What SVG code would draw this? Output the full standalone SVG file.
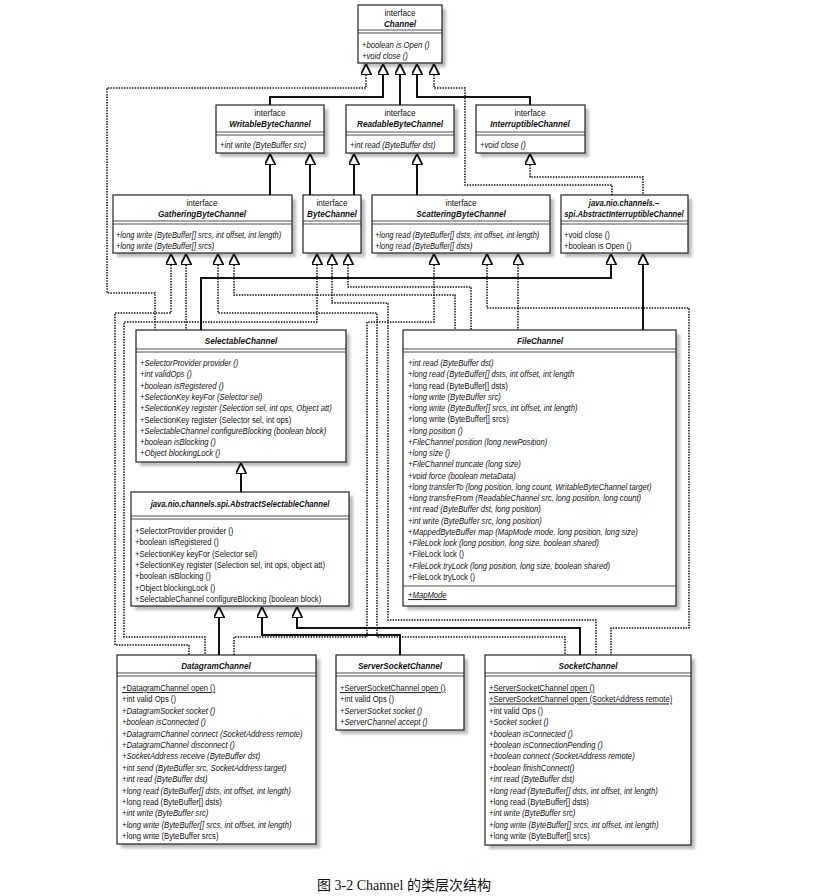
<svg xmlns="http://www.w3.org/2000/svg" width="818" height="896" viewBox="0 0 818 896">
<style>
text{font-family:"Liberation Sans",Arial,sans-serif;font-size:9.6px;fill:#111}
.t{text-anchor:middle}
.b{font-weight:bold;font-style:italic}
.i{font-style:italic}
.u{text-decoration:underline}
.box{fill:#fff;stroke:#222;stroke-width:1.2}
.sh{fill:#bbb;filter:url(#blur)}
.sep{stroke:#222;stroke-width:0.8;fill:none}
.s{fill:none;stroke:#111;stroke-width:2;marker-start:url(#tri)}
.d{fill:none;stroke:#111;stroke-width:1.5;stroke-dasharray:1.5 1.2;marker-start:url(#tri)}
.cap{font-family:"Liberation Serif","Noto Sans CJK SC",serif;font-size:14px;text-anchor:middle}
</style>
<defs>
<filter id="blur" x="-10%" y="-10%" width="130%" height="130%"><feGaussianBlur stdDeviation="1.5"/></filter>
<marker id="tri" viewBox="0 0 12 12" refX="12" refY="6" markerWidth="11" markerHeight="11" markerUnits="userSpaceOnUse" orient="auto-start-reverse">
<path d="M0,0 L12,6 L0,12 Z" fill="#fff" stroke="#111" stroke-width="2"/>
</marker>
</defs>
<rect width="818" height="896" fill="#fff"/>

<g id="Channel">
<rect class="sh" x="362" y="9" width="84" height="58"/>
<rect class="box" x="358" y="5" width="84" height="58"/>
<text class="t" transform="translate(400,16) scale(.85,1)">interface</text>
<text class="t b" transform="translate(400,27) scale(.85,1)">Channel</text>
<path class="sep" d="M358,30H442M358,33H442"/>
<text class="i" transform="translate(362,48) scale(.8,1)">+boolean is Open ()</text>
<text class="i" transform="translate(362,59) scale(.8,1)">+void close ()</text>
</g>

<g id="WritableByteChannel">
<rect class="sh" x="220" y="109" width="108" height="48"/>
<rect class="box" x="216" y="105" width="108" height="48"/>
<text class="t" transform="translate(270,116) scale(.85,1)">interface</text>
<text class="t b" transform="translate(270,127) scale(.85,1)">WritableByteChannel</text>
<path class="sep" d="M216,132H324M216,135H324"/>
<text class="i" transform="translate(220,148) scale(.8,1)">+int write (ByteBuffer src)</text>
</g>

<g id="ReadableByteChannel">
<rect class="sh" x="350" y="109" width="108" height="48"/>
<rect class="box" x="346" y="105" width="108" height="48"/>
<text class="t" transform="translate(400,116) scale(.85,1)">interface</text>
<text class="t b" transform="translate(400,127) scale(.85,1)">ReadableByteChannel</text>
<path class="sep" d="M346,132H454M346,135H454"/>
<text class="i" transform="translate(350,148) scale(.8,1)">+int read (ByteBuffer dst)</text>
</g>

<g id="InterruptibleChannel">
<rect class="sh" x="480" y="109" width="109" height="48"/>
<rect class="box" x="476" y="105" width="109" height="48"/>
<text class="t" transform="translate(530,116) scale(.85,1)">interface</text>
<text class="t b" transform="translate(530,127) scale(.85,1)">InterruptibleChannel</text>
<path class="sep" d="M476,132H585M476,135H585"/>
<text class="i" transform="translate(480,148) scale(.8,1)">+void close ()</text>
</g>

<g id="GatheringByteChannel">
<rect class="sh" x="117" y="199" width="179" height="58"/>
<rect class="box" x="113" y="195" width="179" height="58"/>
<text class="t" transform="translate(202,206) scale(.85,1)">interface</text>
<text class="t b" transform="translate(202,217) scale(.85,1)">GatheringByteChannel</text>
<path class="sep" d="M113,221H292M113,224H292"/>
<text class="i" transform="translate(116,238) scale(.78,1)">+long write (ByteBuffer[] srcs, int offset, int length)</text>
<text class="i" transform="translate(116,249) scale(.78,1)">+long write (ByteBuffer[] srcs)</text>
</g>

<g id="ByteChannel">
<rect class="sh" x="307" y="199" width="58" height="58"/>
<rect class="box" x="303" y="195" width="58" height="58"/>
<text class="t" transform="translate(332,206) scale(.85,1)">interface</text>
<text class="t b" transform="translate(332,217) scale(.85,1)">ByteChannel</text>
<path class="sep" d="M303,221H361M303,224H361"/>
</g>

<g id="ScatteringByteChannel">
<rect class="sh" x="376" y="199" width="178" height="58"/>
<rect class="box" x="372" y="195" width="178" height="58"/>
<text class="t" transform="translate(461,206) scale(.85,1)">interface</text>
<text class="t b" transform="translate(461,217) scale(.85,1)">ScatteringByteChannel</text>
<path class="sep" d="M372,221H550M372,224H550"/>
<text class="i" transform="translate(375,238) scale(.78,1)">+long read (ByteBuffer[] dsts, int offset, int length)</text>
<text class="i" transform="translate(375,249) scale(.78,1)">+long read (ByteBuffer[] dsts)</text>
</g>

<g id="AbstractInterruptibleChannel">
<rect class="sh" x="565" y="199" width="127" height="58"/>
<rect class="box" x="561" y="195" width="127" height="58"/>
<text class="t b" transform="translate(624,206) scale(.8,1)">java.nio.channels.–</text>
<text class="t b" transform="translate(624,217) scale(.8,1)">spi.AbstractInterruptibleChannel</text>
<path class="sep" d="M561,221H688M561,224H688"/>
<text transform="translate(564,238) scale(.8,1)">+void close ()</text>
<text transform="translate(564,249) scale(.8,1)">+boolean is Open ()</text>
</g>

<g id="SelectableChannel">
<rect class="sh" x="140" y="334" width="210" height="132"/>
<rect class="box" x="136" y="330" width="210" height="132"/>
<text class="t b" transform="translate(241,344) scale(.85,1)">SelectableChannel</text>
<path class="sep" d="M136,349H346M136,352H346"/>
<text class="i" transform="translate(140,366) scale(.8,1)">+SelectorProvider provider ()</text>
<text class="i" transform="translate(140,377.3) scale(.8,1)">+int validOps ()</text>
<text class="i" transform="translate(140,388.6) scale(.8,1)">+boolean isRegistered ()</text>
<text class="i" transform="translate(140,399.9) scale(.8,1)">+SelectionKey keyFor (Selector sel)</text>
<text class="i" transform="translate(140,411.2) scale(.8,1)">+SelectionKey register (Selection sel, int ops, Object att)</text>
<text transform="translate(140,422.5) scale(.8,1)">+SelectionKey register (Selector sel, int ops)</text>
<text class="i" transform="translate(140,433.8) scale(.8,1)">+SelectableChannel configureBlocking (boolean block)</text>
<text class="i" transform="translate(140,445.1) scale(.8,1)">+boolean isBlocking ()</text>
<text class="i" transform="translate(140,456.4) scale(.8,1)">+Object blockingLock ()</text>
</g>

<g id="AbstractSelectableChannel">
<rect class="sh" x="135" y="496" width="218" height="114"/>
<rect class="box" x="131" y="492" width="218" height="114"/>
<text class="t b" transform="translate(240,507) scale(.8,1)">java.nio.channels.spi.AbstractSelectableChannel</text>
<path class="sep" d="M131,516H349M131,519H349"/>
<text transform="translate(135,534) scale(.8,1)">+SelectorProvider provider ()</text>
<text transform="translate(135,545.3) scale(.8,1)">+boolean isRegistered ()</text>
<text transform="translate(135,556.6) scale(.8,1)">+SelectionKey keyFor (Selector sel)</text>
<text transform="translate(135,567.9) scale(.8,1)">+SelectionKey register (Selection sel, int ops, object att)</text>
<text transform="translate(135,579.2) scale(.8,1)">+boolean isBlocking ()</text>
<text transform="translate(135,590.5) scale(.8,1)">+Object blockingLock ()</text>
<text transform="translate(135,601.8) scale(.8,1)">+SelectableChannel configureBlocking (boolean block)</text>
</g>

<g id="FileChannel">
<rect class="sh" x="407" y="334" width="273" height="276"/>
<rect class="box" x="403" y="330" width="273" height="276"/>
<text class="t b" transform="translate(540,344) scale(.85,1)">FileChannel</text>
<path class="sep" d="M403,349H676M403,352H676"/>
<g transform="translate(408,0)">
<text class="i" transform="translate(0,366) scale(.8,1)">+int read (ByteBuffer dst)</text>
<text class="i" transform="translate(0,377.26) scale(.8,1)">+long read (ByteBuffer[] dsts, int offset, int length</text>
<text transform="translate(0,388.52) scale(.8,1)">+long read (ByteBuffer[] dsts)</text>
<text class="i" transform="translate(0,399.78) scale(.8,1)">+long write (ByteBuffer src)</text>
<text class="i" transform="translate(0,411.04) scale(.8,1)">+long write (ByteBuffer[] srcs, int offset, int length)</text>
<text transform="translate(0,422.3) scale(.8,1)">+long write (ByteBuffer[] srcs)</text>
<text class="i" transform="translate(0,433.56) scale(.8,1)">+long position ()</text>
<text class="i" transform="translate(0,444.82) scale(.8,1)">+FileChannel position (long newPosition)</text>
<text class="i" transform="translate(0,456.08) scale(.8,1)">+long size ()</text>
<text class="i" transform="translate(0,467.34) scale(.8,1)">+FileChannel truncate (long size)</text>
<text class="i" transform="translate(0,478.6) scale(.8,1)">+void force (boolean metaData)</text>
<text class="i" transform="translate(0,489.86) scale(.8,1)">+long transferTo (long position, long count, WritableByteChannel target)</text>
<text class="i" transform="translate(0,501.12) scale(.8,1)">+long transfreFrom (ReadableChannel src, long position, long count)</text>
<text class="i" transform="translate(0,512.38) scale(.8,1)">+int read (ByteBuffer dst, long position)</text>
<text class="i" transform="translate(0,523.64) scale(.8,1)">+int write (ByteBuffer src, long position)</text>
<text class="i" transform="translate(0,534.9) scale(.8,1)">+MappedByteBuffer map (MapMode mode, long position, long size)</text>
<text class="i" transform="translate(0,546.16) scale(.8,1)">+FileLock lock (long position, long size, boolean shared)</text>
<text transform="translate(0,557.42) scale(.8,1)">+FileLock lock ()</text>
<text class="i" transform="translate(0,568.68) scale(.8,1)">+FileLock tryLock (long position, long size, boolean shared)</text>
<text transform="translate(0,579.94) scale(.8,1)">+FileLock tryLock ()</text>
</g>
<path class="sep" d="M403,586H676"/>
<text class="i u" transform="translate(408,598) scale(.8,1)">+MapMode</text>
</g>

<g id="DatagramChannel">
<rect class="sh" x="121" y="659" width="199" height="189"/>
<rect class="box" x="117" y="655" width="199" height="189"/>
<text class="t b" transform="translate(216,669) scale(.85,1)">DatagramChannel</text>
<path class="sep" d="M117,673H316M117,676H316"/>
<g transform="translate(122,0)">
<text class="u" transform="translate(0,691) scale(.8,1)">+DatagramChannel open ()    </text>
<text transform="translate(0,702.4) scale(.8,1)">+int valid Ops ()</text>
<text class="i" transform="translate(0,713.8) scale(.8,1)">+DatagramSocket socket ()</text>
<text class="i" transform="translate(0,725.2) scale(.8,1)">+boolean isConnected ()</text>
<text class="i" transform="translate(0,736.6) scale(.8,1)">+DatagramChannel connect (SocketAddress remote)</text>
<text class="i" transform="translate(0,748) scale(.8,1)">+DatagramChannel disconnect ()</text>
<text class="i" transform="translate(0,759.4) scale(.8,1)">+SocketAddress receive (ByteBuffer dst)</text>
<text class="i" transform="translate(0,770.8) scale(.8,1)">+int send (ByteBuffer src, SocketAddress target)</text>
<text class="i" transform="translate(0,782.2) scale(.8,1)">+int read (ByteBuffer dst)</text>
<text class="i" transform="translate(0,793.6) scale(.8,1)">+long read (ByteBuffer[] dsts, int offset, int length)</text>
<text transform="translate(0,805) scale(.8,1)">+long read (ByteBuffer[] dsts)</text>
<text class="i" transform="translate(0,816.4) scale(.8,1)">+int write (ByteBuffer src)</text>
<text class="i" transform="translate(0,827.8) scale(.8,1)">+long write (ByteBuffer[] srcs, int offset, int length)</text>
<text transform="translate(0,839.2) scale(.8,1)">+long write (ByteBuffer srcs)</text>
</g>
</g>

<g id="ServerSocketChannel">
<rect class="sh" x="340" y="659" width="128" height="75"/>
<rect class="box" x="336" y="655" width="128" height="75"/>
<text class="t b" transform="translate(400,669) scale(.85,1)">ServerSocketChannel</text>
<path class="sep" d="M336,673H464M336,676H464"/>
<g transform="translate(340,0)">
<text class="u" transform="translate(0,691) scale(.8,1)">+ServerSocketChannel open ()</text>
<text transform="translate(0,702.4) scale(.8,1)">+int valid Ops ()</text>
<text class="i" transform="translate(0,713.8) scale(.8,1)">+ServerSocket socket ()</text>
<text class="i" transform="translate(0,725.2) scale(.8,1)">+ServerChannel accept ()</text>
</g>
</g>

<g id="SocketChannel">
<rect class="sh" x="489" y="659" width="206" height="190"/>
<rect class="box" x="485" y="655" width="206" height="190"/>
<text class="t b" transform="translate(588,669) scale(.85,1)">SocketChannel</text>
<path class="sep" d="M485,673H691M485,676H691"/>
<g transform="translate(489,0)">
<text class="u" transform="translate(0,691) scale(.8,1)">+ServerSocketChannel open ()</text>
<text class="u" transform="translate(0,702.4) scale(.8,1)">+ServerSocketChannel open (SocketAddress remote)</text>
<text transform="translate(0,713.8) scale(.8,1)">+int valid Ops ()</text>
<text class="i" transform="translate(0,725.2) scale(.8,1)">+Socket socket ()</text>
<text class="i" transform="translate(0,736.6) scale(.8,1)">+boolean isConnected ()</text>
<text class="i" transform="translate(0,748) scale(.8,1)">+boolean isConnectionPending ()</text>
<text class="i" transform="translate(0,759.4) scale(.8,1)">+boolean connect (SocketAddress remote)</text>
<text class="i" transform="translate(0,770.8) scale(.8,1)">+boolean finishConnect()</text>
<text class="i" transform="translate(0,782.2) scale(.8,1)">+int read (ByteBuffer dst)</text>
<text class="i" transform="translate(0,793.6) scale(.8,1)">+long read (ByteBuffer[] dsts, int offset, int length)</text>
<text transform="translate(0,805) scale(.8,1)">+long read (ByteBuffer[] dsts)</text>
<text class="i" transform="translate(0,816.4) scale(.8,1)">+int write (ByteBuffer src)</text>
<text class="i" transform="translate(0,827.8) scale(.8,1)">+long write (ByteBuffer[] srcs, int offset, int length)</text>
<text transform="translate(0,839.2) scale(.8,1)">+long write (ByteBuffer[] srcs)</text>
</g>
</g>

<g id="connectors">
<path class="d" d="M366,64V88H107V293H155V330"/>
<path class="s" d="M383,64V97H270V105"/>
<path class="s" d="M400,64V105"/>
<path class="s" d="M417,64V97H530V105"/>
<path class="d" d="M434,64V88H465V185H612V195"/>
<path class="s" d="M270,154V195"/>
<path class="s" d="M310,154V195"/>
<path class="s" d="M354,154V195"/>
<path class="s" d="M417,154V195"/>
<path class="d" d="M530,154V177H643V195"/>
<path class="d" d="M171,254V313H115V645H189V655"/>
<path class="d" d="M186,254V330"/>
<path class="d" d="M218,254V313H377V637H565V655"/>
<path class="d" d="M234,254V295H455V330"/>
<path class="d" d="M317,254V322H124V637H205V655"/>
<path class="d" d="M332,254V303H388V620H596V655"/>
<path class="d" d="M348,254V287H471V330"/>
<path class="d" d="M434,254V322H367V637H234V655"/>
<path class="d" d="M487,254V308H689V628H611V655"/>
<path class="d" d="M518,254V330"/>
<path class="s" d="M611,254V278H201V330"/>
<path class="s" d="M643,254V330"/>
<path class="s" d="M241,463V492"/>
<path class="s" d="M219,607V655"/>
<path class="s" d="M262,607V635H400V655"/>
<path class="s" d="M297,607V628H580V655"/>
</g>

<text class="cap" x="404" y="890">图 3-2 Channel 的类层次结构</text>
</svg>
